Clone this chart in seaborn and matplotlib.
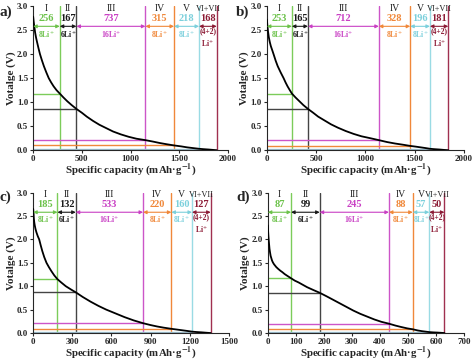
import numpy as np
import matplotlib
matplotlib.use('Agg')
import matplotlib.pyplot as plt
import seaborn as sns

sns.set_style('ticks')
plt.rcParams['font.family'] = ['Liberation Serif', 'DejaVu Serif']
plt.rcParams['font.weight'] = 'bold'
plt.rcParams['mathtext.fontset'] = 'stix'

# Discharge curves (capacity in mAh/g, voltage in V)
a_cap = [0, 5, 10, 20, 30, 40, 55, 70, 90, 110, 135, 160, 185, 210, 240, 273, 310, 350, 395, 444,
         500, 550, 615, 680, 750, 820, 900, 980, 1060, 1152, 1230, 1300, 1370, 1446, 1520, 1580,
         1640, 1703, 1750, 1800, 1850, 1884]
a_volt = [2.78, 2.68, 2.6, 2.45, 2.34, 2.25, 2.12, 2.0, 1.87, 1.75, 1.62, 1.5, 1.41, 1.33, 1.25, 1.18,
          1.10, 1.02, 0.94, 0.86, 0.78, 0.70, 0.61, 0.53, 0.46, 0.39, 0.33, 0.28, 0.24, 0.21, 0.18,
          0.15, 0.125, 0.10, 0.08, 0.06, 0.045, 0.03, 0.022, 0.015, 0.006, 0.0]
b_cap = [0, 5, 10, 20, 30, 40, 55, 68, 90, 110, 140, 170, 190, 210, 230, 254, 290, 330, 370, 417,
         470, 520, 585, 650, 720, 800, 880, 960, 1050, 1136, 1220, 1300, 1380, 1454, 1510, 1560,
         1610, 1654, 1700, 1750, 1800, 1840]
b_volt = [2.72, 2.6, 2.5, 2.35, 2.25, 2.17, 2.08, 2.0, 1.86, 1.75, 1.62, 1.5, 1.41, 1.33, 1.26, 1.18,
          1.10, 1.02, 0.94, 0.86, 0.78, 0.70, 0.62, 0.54, 0.47, 0.40, 0.34, 0.29, 0.25, 0.21, 0.17,
          0.14, 0.115, 0.09, 0.075, 0.06, 0.045, 0.03, 0.022, 0.015, 0.006, 0.0]
c_cap = [0, 3, 5, 8, 12, 18, 25, 35, 46, 58, 70, 85, 102, 120, 140, 162, 186, 215, 250, 290, 326,
         380, 440, 500, 560, 630, 700, 770, 842, 900, 950, 1000, 1059, 1100, 1140, 1180, 1217,
         1250, 1290, 1330, 1360]
c_volt = [2.65, 2.55, 2.45, 2.37, 2.3, 2.22, 2.15, 2.07, 2.0, 1.87, 1.75, 1.62, 1.5, 1.41, 1.32, 1.23,
          1.15, 1.08, 1.0, 0.93, 0.87, 0.77, 0.67, 0.58, 0.5, 0.42, 0.34, 0.27, 0.21, 0.17, 0.14,
          0.115, 0.09, 0.075, 0.06, 0.045, 0.03, 0.022, 0.015, 0.006, 0.0]
d_cap = [0, 1, 2, 3, 4.5, 6, 8, 10, 12.5, 15, 18, 22, 26, 30, 37, 45, 52, 60, 70, 83, 96, 110, 125,
         140, 162, 185, 208, 230, 255, 280, 305, 330, 355, 380, 405, 432, 455, 475, 497, 517, 535,
         550, 563, 576, 590, 605, 618, 630]
d_volt = [2.3, 2.18, 2.08, 2.0, 1.9, 1.8, 1.72, 1.65, 1.6, 1.55, 1.51, 1.47, 1.44, 1.41, 1.37, 1.33,
          1.3, 1.26, 1.22, 1.17, 1.12, 1.08, 1.03, 0.98, 0.92, 0.86, 0.79, 0.72, 0.64, 0.56, 0.48,
          0.41, 0.35, 0.29, 0.24, 0.20, 0.16, 0.13, 0.1, 0.08, 0.055, 0.04, 0.03, 0.02, 0.014, 0.01,
          0.005, 0.0]

# Stage boundaries (vertical lines) and the voltages where they cut the curve
a_bounds = [273, 444, 1152, 1446, 1703, 1884]
b_bounds = [254, 417, 1136, 1454, 1654, 1840]
c_bounds = [186, 326, 842, 1059, 1217, 1360]
d_bounds = [83, 185, 432, 517, 576, 630]
a_hvolt = [1.18, 0.86, 0.22, 0.10, 0.03, 0.0]
b_hvolt = [1.18, 0.86, 0.21, 0.09, 0.03, 0.0]
c_hvolt = [1.15, 0.87, 0.21, 0.09, 0.03, 0.0]
d_hvolt = [1.17, 0.86, 0.20, 0.08, 0.02, 0.0]

# Capacity contributed by each stage
a_seg = [256, 167, 737, 315, 218, 168]
b_seg = [253, 165, 712, 328, 196, 181]
c_seg = [185, 132, 533, 220, 160, 127]
d_seg = [87, 99, 245, 88, 57, 50]

stages = ['I', 'II', 'III', 'IV', 'V', 'VI+VII']
li_labels = ['8Li$^{\\mathbf{+}}$', '6Li$^{\\mathbf{+}}$', '16Li$^{\\mathbf{+}}$',
             '8Li$^{\\mathbf{+}}$', '8Li$^{\\mathbf{+}}$', '(4+2)\nLi$^{\\mathbf{+}}$']
colors = ['#6cc24a', '#1a1a1a', '#c940c4', '#f0883a', '#7cd0dc', '#8c1b35']
line_colors = ['#7ccc5a', '#444444', '#cc55c8', '#f0883a', '#9adbe4', '#a03050']

panels = [
    ('a)', a_cap, a_volt, a_bounds, a_hvolt, a_seg, 2000, [0, 500, 1000, 1500, 2000]),
    ('b)', b_cap, b_volt, b_bounds, b_hvolt, b_seg, 2000, [0, 500, 1000, 1500, 2000]),
    ('c)', c_cap, c_volt, c_bounds, c_hvolt, c_seg, 1500, [0, 300, 600, 900, 1200, 1500]),
    ('d)', d_cap, d_volt, d_bounds, d_hvolt, d_seg, 700, [0, 100, 200, 300, 400, 500, 600, 700]),
]
positions = [[0.070, 0.585, 0.411, 0.398], [0.563, 0.585, 0.416, 0.398],
             [0.070, 0.080, 0.413, 0.388], [0.565, 0.080, 0.414, 0.388]]
label_xy = [(0.0, 0.965), (0.498, 0.965), (0.0, 0.455), (0.498, 0.455)]

fig = plt.figure(figsize=(4.74, 3.62), dpi=100)

for (tag, cap, volt, bounds, hvolt, seg, xmax, xticks), pos, lxy in zip(panels, positions, label_xy):
    ax = fig.add_axes(pos)
    ax.set_xlim(0, xmax)
    ax.set_ylim(0, 3.0)

    starts = [0] + bounds[:-1]
    for i, b in enumerate(bounds):
        ax.axvline(b, color=line_colors[i], lw=1.0, zorder=1)
        ax.hlines(hvolt[i], 0, b, color=line_colors[i], lw=1.0, zorder=1)

    sns.lineplot(x=cap, y=volt, ax=ax, color='black', lw=1.3, zorder=3)

    for i, (s, e) in enumerate(zip(starts, bounds)):
        mid = (s + e) / 2
        ax.annotate('', xy=(e, 2.58), xytext=(s, 2.58),
                    arrowprops=dict(arrowstyle='<|-|>', color=colors[i], lw=0.8,
                                    mutation_scale=5, shrinkA=0, shrinkB=0))
        ax.text(mid, 2.95, stages[i], ha='center', va='center', fontsize=7 if i < 5 else 6,
                color='#222222', fontweight='normal')
        ax.text(mid, 2.74, str(seg[i]), ha='center', va='center', fontsize=7.5,
                color=colors[i], fontweight='bold')
        ax.text(mid, 2.42 if i < 5 else 2.33, li_labels[i], ha='center', va='center',
                fontsize=5.5, color=colors[i], fontweight='bold', linespacing=1.3)

    ax.set_xticks(xticks)
    ax.set_yticks([0.0, 0.5, 1.0, 1.5, 2.0, 2.5, 3.0])
    ax.set_yticklabels(['0.0', '0.5', '1.0', '1.5', '2.0', '2.5', '3.0'])
    ax.tick_params(labelsize=6.5, length=2, width=0.8, pad=1.5)
    for lab in ax.get_xticklabels() + ax.get_yticklabels():
        lab.set_fontweight('bold')
    ax.set_xlabel('Specific capacity (mAh·g$^{\\mathbf{-1}}$)', fontsize=7.8,
                  fontweight='bold', labelpad=-1)
    ax.set_ylabel('Votalge (V)', fontsize=8, fontweight='bold', labelpad=1)
    sns.despine(ax=ax)
    for sp in ax.spines.values():
        sp.set_linewidth(0.8)

    fig.text(lxy[0], lxy[1], tag, fontsize=11, fontweight='bold', ha='left', va='center')

fig.savefig('out.png', dpi=100)
